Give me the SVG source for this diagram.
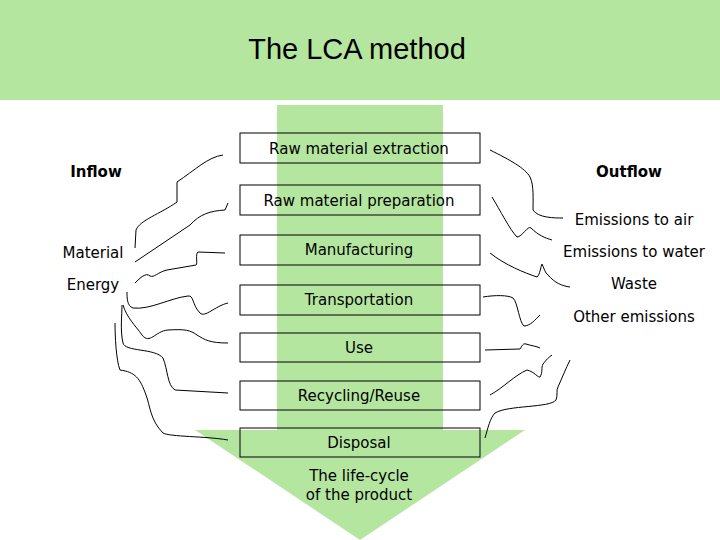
<svg xmlns="http://www.w3.org/2000/svg" width="720" height="540" viewBox="0 0 720 540">
<style>
.t{font-family:"DejaVu Sans",sans-serif;font-size:15px;fill:#000}
.b{font-weight:bold}
.box{fill:none;stroke:#000;stroke-width:1}
.c{fill:none;stroke:#000;stroke-width:1}
</style>
<rect width="720" height="540" fill="#fff"/>
<rect x="0" y="0" width="720" height="100" fill="#b5e6a0"/>
<text x="357" y="59" text-anchor="middle" style="font-family:'Liberation Sans',sans-serif;font-size:29px">The LCA method</text>
<rect x="277" y="105" width="166" height="326" fill="#b5e6a0"/>
<polygon points="195,430 525,430 360,540" fill="#b5e6a0"/>
<g id="labels">
<text class="t b" x="96" y="177" text-anchor="middle">Inflow</text>
<text class="t b" x="629" y="177" text-anchor="middle">Outflow</text>
<text class="t" x="93" y="258" text-anchor="middle">Material</text>
<text class="t" x="93" y="290" text-anchor="middle">Energy</text>
<text class="t" x="634" y="225" text-anchor="middle">Emissions to air</text>
<text class="t" x="634" y="257" text-anchor="middle">Emissions to water</text>
<text class="t" x="634" y="289" text-anchor="middle">Waste</text>
<text class="t" x="634" y="322" text-anchor="middle">Other emissions</text>
</g>
<g id="n1"><rect class="box" x="240" y="133" width="240" height="30"/><text class="t" x="359" y="154" text-anchor="middle">Raw material extraction</text></g>
<g id="n2"><rect class="box" x="240" y="185" width="240" height="30"/><text class="t" x="359" y="206" text-anchor="middle">Raw material preparation</text></g>
<g id="n3"><rect class="box" x="240" y="235" width="240" height="30"/><text class="t" x="359" y="255" text-anchor="middle">Manufacturing</text></g>
<g id="n4"><rect class="box" x="240" y="285" width="240" height="30"/><text class="t" x="359" y="305" text-anchor="middle">Transportation</text></g>
<g id="n5"><rect class="box" x="240" y="333" width="240" height="29"/><text class="t" x="359" y="353" text-anchor="middle">Use</text></g>
<g id="n6"><rect class="box" x="240" y="381" width="240" height="29"/><text class="t" x="359" y="401" text-anchor="middle">Recycling/Reuse</text></g>
<g id="n7"><rect class="box" x="240" y="428" width="240" height="29"/><text class="t" x="359" y="448" text-anchor="middle">Disposal</text></g>
<g id="n8"><text class="t" x="359" y="481" text-anchor="middle">The life-cycle</text><text class="t" x="359" y="500" text-anchor="middle">of the product</text></g>
<g id="connectors">
<path class="c" d="M223,155 C208,157 195,170 177,182 L177,202 C160,214 140,220 136,230 L135,248"/>
<path class="c" d="M228,203 L225,210 C210,211 200,214 190,225 L135,262"/>
<path class="c" d="M225,253 L198,252 C195,254 198,264 196,265 L167,270 C158,272 154,278 150,276 C146,272 140,278 135,283"/>
<path class="c" d="M228,303 C215,306 205,318 200,313 C192,305 194,295 188,296 C170,298 150,310 133,308 C127,306 127,298 127,292"/>
<path class="c" d="M228,343 C210,343 205,340 197,335 C190,330 185,329 168,330 C155,331 150,345 142,335 C135,325 127,318 123,305"/>
<path class="c" d="M228,393 L175,390 C167,385 168,370 163,358 C155,348 125,352 123,343 C120,330 122,315 122,305"/>
<path class="c" d="M228,440 C205,436 170,437 163,433 C150,420 150,405 146,395 C140,378 135,372 120,370 C116,360 115,335 115,323"/>
<path class="c" d="M490,150 C510,160 525,168 530,177 C534,185 533,200 533,210 C538,218 555,218 563,218"/>
<path class="c" d="M492,197 C500,210 510,230 517,237 C522,237 528,225 531,228 C538,235 545,238 552,240"/>
<path class="c" d="M490,253 C505,265 525,273 537,277 C540,275 541,265 542,264 C544,268 545,273 548,275 C555,283 562,286 570,287"/>
<path class="c" d="M483,297 C495,295 508,295 513,298 C518,303 519,322 524,326 C530,326 535,320 540,315"/>
<path class="c" d="M485,350 L520,349 C522,346 523,343 526,344 C532,346 536,346 540,348"/>
<path class="c" d="M490,395 C503,388 515,375 527,370 C535,372 538,378 540,377 C543,372 541,368 543,364 C546,360 549,357 552,355"/>
<path class="c" d="M485,438 C488,428 490,418 495,413 C508,405 550,408 556,400 C558,395 556,390 558,387 C562,378 566,368 570,360"/>
</g>
</svg>
